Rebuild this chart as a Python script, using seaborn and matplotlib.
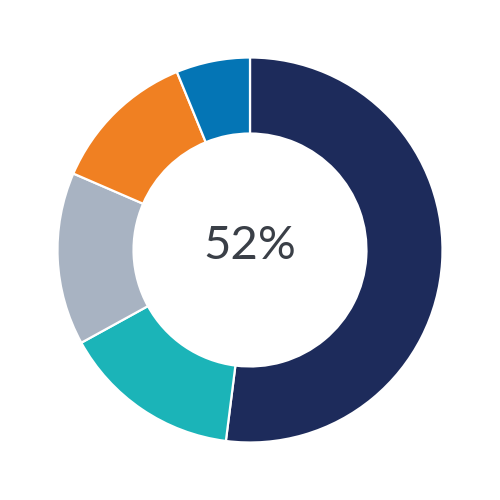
import matplotlib
matplotlib.use("Agg")
import matplotlib.pyplot as plt
import seaborn as sns

categories = ["Navy", "Teal", "Gray", "Orange", "Blue"]
values = [52, 15, 14.5, 12.3, 6.2]
colors = ["#1d2b5b", "#1bb4b8", "#a8b3c2", "#f08022", "#0475b5"]
center_label = "52%"

sns.set_theme(style="white")
plt.rcParams['font.family'] = ['Lato', 'DejaVu Sans']

fig = plt.figure(figsize=(5, 5), dpi=100)
ax = fig.add_axes([0, 0, 1, 1])
palette = sns.color_palette(colors)
ax.pie(values, colors=palette, startangle=90, counterclock=False,
       radius=1.0,
       wedgeprops=dict(width=0.395, edgecolor="white", linewidth=1.6))
ax.text(0, 0.02, center_label, ha="center", va="center", fontsize=34,
        color="#3a3f47", fontweight="normal")
lim = 250 / 192.5
ax.set_xlim(-lim, lim)
ax.set_ylim(-lim, lim)
ax.set_aspect("equal")
ax.axis("off")
fig.savefig("out.png", dpi=100, facecolor="white")
